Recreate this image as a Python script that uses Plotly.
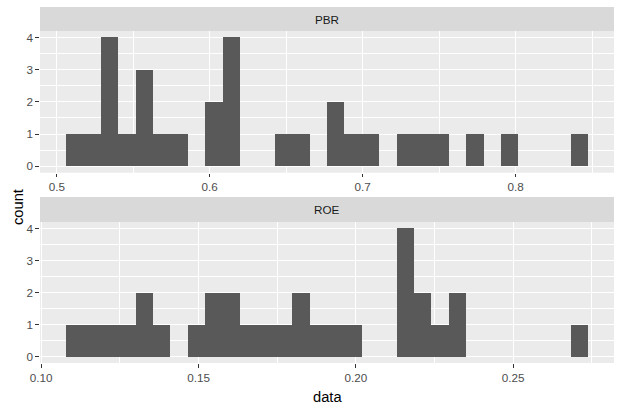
import plotly.graph_objects as go

# ---- data ----
pbr_counts = [1, 1, 4, 1, 3, 1, 1, 0, 2, 4, 0, 0, 1, 1, 0, 2, 1, 1, 0, 1, 1, 1, 0, 1, 0, 1, 0, 0, 0, 1]
roe_counts = [1, 1, 1, 1, 2, 1, 0, 1, 2, 2, 1, 1, 1, 2, 1, 1, 1, 0, 0, 4, 2, 1, 2, 0, 0, 0, 0, 0, 0, 1]
pbr_bin_range = [0.5061, 0.8473]
roe_bin_range = [0.1079, 0.2738]
pbr_ticks = [0.5, 0.6, 0.7, 0.8]
roe_ticks = [0.10, 0.15, 0.20, 0.25]
count_ticks = [0, 1, 2, 3, 4]
panels = ["PBR", "ROE"]


def centers(rng, n):
    w = (rng[1] - rng[0]) / n
    return [rng[0] + w * (i + 0.5) for i in range(n)], w


W, H = 622, 407
ml, mr, mt, mb = 40, 8, 7, 44
ph = H - mt - mb

def py(pix):
    return (H - mb - pix) / ph

pbr_dom = [py(172.7), py(31)]
roe_dom = [py(363), py(222)]
pbr_strip = [py(31), py(7)]
roe_strip = [py(222), py(197)]

fig = go.Figure()
px_, pw = centers(pbr_bin_range, len(pbr_counts))
rx_, rw = centers(roe_bin_range, len(roe_counts))
fig.add_trace(go.Bar(x=px_, y=pbr_counts, width=pw, marker=dict(color="#595959", line=dict(width=0)),
                     xaxis="x", yaxis="y", hoverinfo="x+y"))
fig.add_trace(go.Bar(x=rx_, y=roe_counts, width=rw, marker=dict(color="#595959", line=dict(width=0)),
                     xaxis="x2", yaxis="y2", hoverinfo="x+y"))

def xr(rng):
    s = (rng[1] - rng[0]) * 0.05
    return [rng[0] - s, rng[1] + s]

tickfont = dict(family="Liberation Sans, Arial", size=11.7, color="#4D4D4D")
common_x = dict(showgrid=True, gridcolor="white", gridwidth=1.1, zeroline=False,
                ticks="outside", ticklen=3.7, tickcolor="#333333", tickwidth=1.1,
                tickfont=tickfont, showline=False, fixedrange=True, automargin=False)
common_y = dict(common_x, range=[-0.2, 4.2], tickvals=count_ticks,
                minor=dict(tickvals=[0.5, 1.5, 2.5, 3.5], showgrid=True, gridcolor="white", gridwidth=0.55, ticks=""))

fig.update_layout(
    width=W, height=H,
    margin=dict(l=ml, r=mr, t=mt, b=mb, pad=0, autoexpand=False),
    paper_bgcolor="white", plot_bgcolor="#EBEBEB",
    showlegend=False, bargap=0,
    xaxis=dict(common_x, domain=[0, 1], anchor="y", range=xr(pbr_bin_range), tickvals=pbr_ticks,
               ticktext=[f"{v:.1f}" for v in pbr_ticks],
               minor=dict(tickvals=[0.55, 0.65, 0.75, 0.85], showgrid=True, gridcolor="white", gridwidth=0.55, ticks="")),
    yaxis=dict(common_y, domain=pbr_dom, anchor="x"),
    xaxis2=dict(common_x, domain=[0, 1], anchor="y2", range=xr(roe_bin_range), tickvals=roe_ticks,
                ticktext=[f"{v:.2f}" for v in roe_ticks],
                minor=dict(tickvals=[0.125, 0.175, 0.225, 0.275], showgrid=True, gridcolor="white", gridwidth=0.55, ticks="")),
    yaxis2=dict(common_y, domain=roe_dom, anchor="x2"),
)

for name, sd in zip(panels, [pbr_strip, roe_strip]):
    fig.add_shape(type="rect", xref="paper", yref="paper", x0=0, x1=1, y0=sd[0], y1=sd[1],
                  fillcolor="#D9D9D9", line=dict(width=0), layer="below")
    fig.add_annotation(text=name, xref="paper", yref="paper", x=0.5, y=(sd[0] + sd[1]) / 2,
                       showarrow=False, font=dict(family="Liberation Sans, Arial", size=11.7, color="#1A1A1A"),
                       xanchor="center", yanchor="middle")

fig.add_annotation(text="count", xref="paper", yref="paper", x=(18 - ml) / (W - ml - mr), y=py(207),
                   textangle=-90, showarrow=False, xanchor="center", yanchor="middle",
                   font=dict(family="Liberation Sans, Arial", size=14.7, color="black"))
fig.add_annotation(text="data", xref="paper", yref="paper", x=0.5, y=py(397),
                   showarrow=False, xanchor="center", yanchor="middle",
                   font=dict(family="Liberation Sans, Arial", size=14.7, color="black"))

fig.write_html("out.html", config={"displayModeBar": False},
               post_script="document.body.style.margin='0px';document.body.style.overflow='hidden';")
